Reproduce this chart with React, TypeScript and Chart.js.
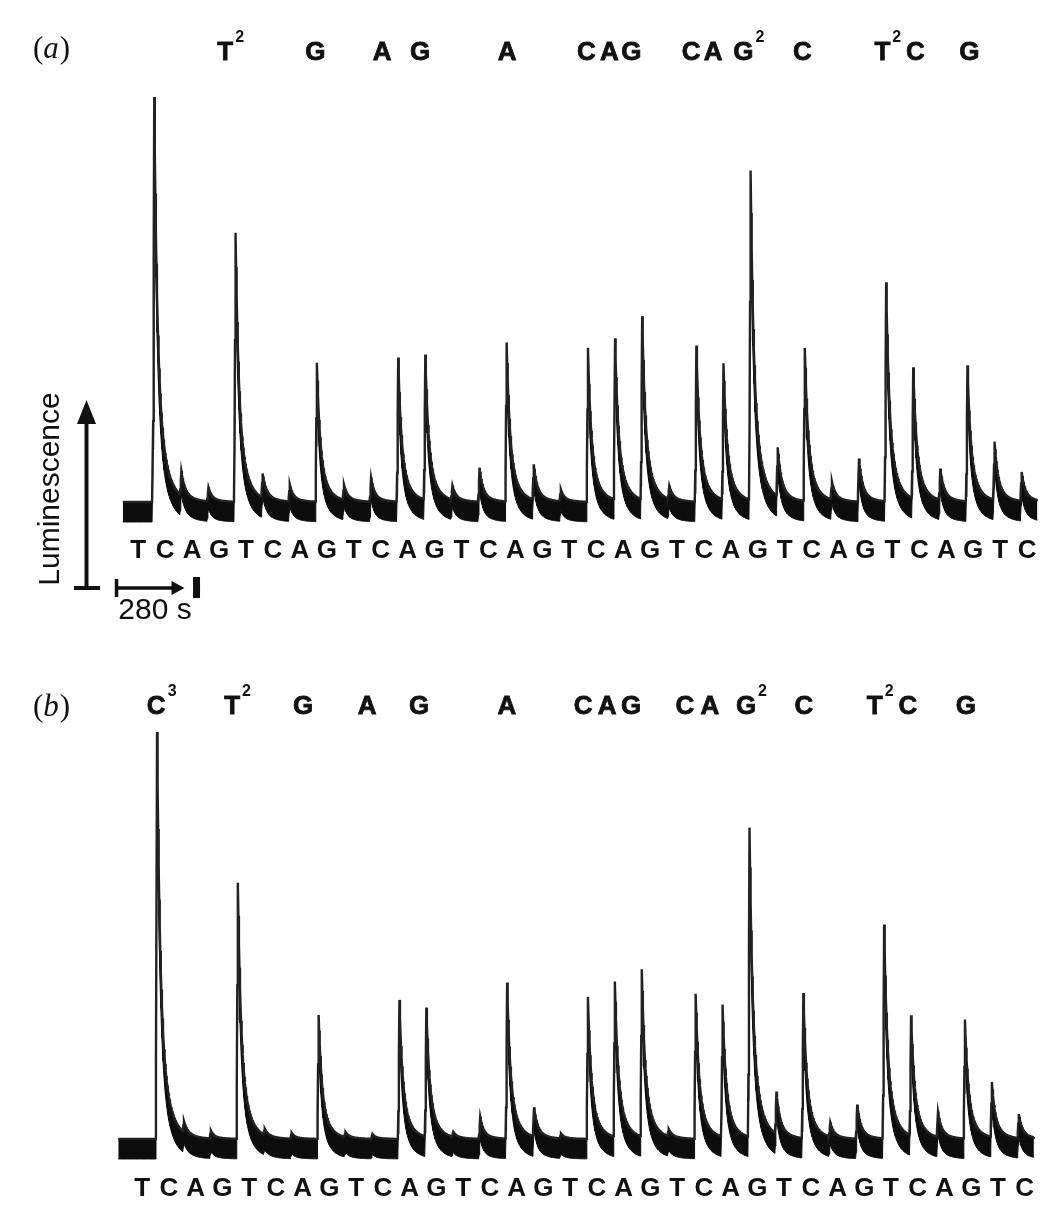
import React, { useEffect, useRef } from 'react';
import { Chart, registerables } from 'chart.js';

Chart.register(...registerables);

// ---------------- data ----------------
// Nucleotide dispensation order (34 dispensations), shown under each trace
const DISPENSATIONS = ['T','C','A','G','T','C','A','G','T','C','A','G','T','C','A','G','T','C','A','G','T','C','A','G','T','C','A','G','T','C','A','G','T','C'];

// Peak heights (luminescence, arbitrary units) for each dispensation
const PEAKS_A = [0, 405, 24, 14, 269, 24, 17, 139, 15, 24, 144, 145, 14, 34, 159, 35, 12, 154, 161, 183, 13, 156, 136, 329, 49, 153, 18, 43, 219, 131, 31, 136, 58, 29];
const PEAKS_B = [0, 407, 11, 8, 256, 6, 6, 124, 5, 5, 139, 129, 5, 22, 156, 29, 5, 142, 155, 167, 7, 145, 132, 309, 42, 145, 14, 34, 214, 120, 25, 119, 55, 24];

// Called-base annotations above the traces
const TOP_A_TEXT = ['T', 'G', 'A', 'G', 'A', 'C', 'A', 'G', 'C', 'A', 'G', 'C', 'T', 'C', 'G'];
const TOP_A_SUP = ['2', '', '', '', '', '', '', '', '', '', '2', '', '2', '', ''];
const TOP_A_AT = [3.62, 6.94, 9.41, 10.81, 14.02, 16.94, 17.79, 18.6, 20.81, 21.62, 22.73, 24.91, 27.86, 29.08, 31.07];

const TOP_B_TEXT = ['C', 'T', 'G', 'A', 'G', 'A', 'C', 'A', 'G', 'C', 'A', 'G', 'C', 'T', 'C', 'G'];
const TOP_B_SUP = ['3', '2', '', '', '', '', '', '', '', '', '', '2', '', '2', '', ''];
const TOP_B_AT = [0.97, 3.79, 6.42, 8.8, 10.73, 13.99, 16.82, 17.71, 18.6, 20.6, 21.53, 22.87, 25.02, 27.65, 28.88, 31.03];

// time scale bar
const SCALE_BAR_LABEL = '280 s';
const SCALE_BAR_FROM = -0.4;
const SCALE_BAR_TO = 2.56;

// ---------------- rendering helpers ----------------
const W = 1064;
const BAND = 20; // thickness of the noisy baseline band
const STEP = 0.02;
const RISE = 0.05;

function buildTrace(peaks: number[], start: number, end: number) {
  const upper: { x: number; y: number }[] = [];
  const lower: { x: number; y: number }[] = [];
  const k0 = Math.round(start / STEP);
  const k1 = Math.round(end / STEP);
  for (let k = k0; k <= k1; k++) {
    const t = k * STEP;
    let s = 0;
    for (let i = 0; i < peaks.length; i++) {
      const h = peaks[i];
      const d = t - i;
      if (d < -RISE - 1e-9) continue;
      if (d < -1e-9) s += h * (1 + d / RISE);
      else s += h * (0.65 * Math.exp(-d / 0.11) + 0.35 * Math.exp(-d / 0.33));
    }
    upper.push({ x: t, y: s });
    lower.push({ x: t, y: s * 0.9 - BAND });
  }
  return { upper, lower };
}

type PanelCfg = {
  tag: string;
  peaks: number[];
  topText: string[];
  topSup: string[];
  topAt: number[];
  height: number;
  xMin: number;
  xMax: number;
  areaLeft: number;
  areaRight: number;
  yMin: number;
  yMax: number;
  areaTop: number;
  areaBottom: number;
  traceStart: number;
  traceEnd: number;
  tagY: number;
  topY: number;
  bottomY: number;
  letterFirst: number;
  letterLast: number;
  axisKey: boolean;
};

const PANEL_A: PanelCfg = {
  tag: 'a', peaks: PEAKS_A, topText: TOP_A_TEXT, topSup: TOP_A_SUP, topAt: TOP_A_AT,
  height: 640, xMin: -0.3, xMax: 33.75, areaLeft: 119, areaRight: 1042,
  yMin: -58, yMax: 422, areaTop: 80, areaBottom: 560,
  traceStart: -0.16, traceEnd: 33.58,
  tagY: 50, topY: 53, bottomY: 551, letterFirst: 0.41, letterLast: 33.2, axisKey: true,
};

const PANEL_B: PanelCfg = {
  tag: 'b', peaks: PEAKS_B, topText: TOP_B_TEXT, topSup: TOP_B_SUP, topAt: TOP_B_AT,
  height: 565, xMin: -0.45, xMax: 33.75, areaLeft: 118, areaRight: 1039,
  yMin: -41, yMax: 439, areaTop: 60, areaBottom: 540,
  traceStart: -0.44, traceEnd: 33.56,
  tagY: 68, topY: 67, bottomY: 549, letterFirst: 0.45, letterLast: 33.22, axisKey: false,
};

function makeAnnotations(cfg: PanelCfg) {
  return {
    id: 'pyroAnnotations_' + cfg.tag,
    afterDraw(chart: any) {
      const ctx: CanvasRenderingContext2D = chart.ctx;
      const xs = chart.scales.x;
      ctx.save();
      ctx.fillStyle = '#111';
      ctx.strokeStyle = '#111';

      // panel tag "(a)" / "(b)"
      ctx.textBaseline = 'middle';
      ctx.textAlign = 'left';
      let tx = 33;
      ctx.font = '31px "Liberation Serif"';
      ctx.fillText('(', tx, cfg.tagY);
      tx += ctx.measureText('(').width;
      ctx.font = 'italic 31px "Liberation Serif"';
      ctx.fillText(cfg.tag, tx, cfg.tagY);
      tx += ctx.measureText(cfg.tag).width + 1;
      ctx.font = '31px "Liberation Serif"';
      ctx.fillText(')', tx, cfg.tagY);

      // called bases on top
      ctx.textAlign = 'center';
      cfg.topText.forEach((t, i) => {
        const x = xs.getPixelForValue(cfg.topAt[i]);
        ctx.font = 'bold 26px "Liberation Sans"';
        ctx.fillText(t, x, cfg.topY);
        ctx.lineWidth = 0.8;
        ctx.strokeText(t, x, cfg.topY);
        const w = ctx.measureText(t).width;
        const sup = cfg.topSup[i];
        if (sup) {
          ctx.font = 'bold 16px "Liberation Sans"';
          const sw = ctx.measureText(sup).width;
          ctx.fillText(sup, x + w / 2 + 2 + sw / 2, cfg.topY - 15);
        }
      });

      // dispensation order under the trace
      ctx.font = 'bold 26px "Liberation Sans"';
      const n = DISPENSATIONS.length;
      DISPENSATIONS.forEach((d, i) => {
        const v = cfg.letterFirst + (cfg.letterLast - cfg.letterFirst) * (i / (n - 1));
        ctx.fillText(d, xs.getPixelForValue(v), cfg.bottomY);
      });

      if (cfg.axisKey) {
        // Luminescence arrow
        ctx.save();
        ctx.translate(59, 489);
        ctx.rotate(-Math.PI / 2);
        ctx.textAlign = 'center';
        ctx.textBaseline = 'alphabetic';
        ctx.font = '30px "Liberation Sans"';
        ctx.fillText('Luminescence', 0, 0);
        ctx.restore();

        ctx.fillRect(84.5, 418, 4, 589 - 418);
        ctx.beginPath();
        ctx.moveTo(86.5, 400);
        ctx.lineTo(77, 424);
        ctx.lineTo(96, 424);
        ctx.closePath();
        ctx.fill();
        ctx.fillRect(74, 586, 26, 4);

        // time scale bar
        const x0 = xs.getPixelForValue(SCALE_BAR_FROM);
        const x1 = xs.getPixelForValue(SCALE_BAR_TO);
        const yb = 588;
        ctx.fillRect(x0 - 1.5, yb - 9, 3.5, 18);
        const tip = x1 - 12;
        ctx.fillRect(x0, yb - 1.75, tip - 10 - x0, 3.5);
        ctx.beginPath();
        ctx.moveTo(tip, yb);
        ctx.lineTo(tip - 13, yb - 7);
        ctx.lineTo(tip - 13, yb + 7);
        ctx.closePath();
        ctx.fill();
        ctx.fillRect(x1 - 3.5, yb - 11, 7, 21);

        ctx.textAlign = 'left';
        ctx.textBaseline = 'middle';
        ctx.font = '30px "Liberation Sans"';
        ctx.fillText(SCALE_BAR_LABEL, x0 + 2, 611);
      }
      ctx.restore();
    },
  };
}

function Panel({ cfg, top }: { cfg: PanelCfg; top: number }) {
  const ref = useRef<HTMLCanvasElement | null>(null);
  useEffect(() => {
    if (!ref.current) return;
    const { upper, lower } = buildTrace(cfg.peaks, cfg.traceStart, cfg.traceEnd);
    const chart = new Chart(ref.current, {
      type: 'line',
      data: {
        datasets: [
          {
            data: upper,
            borderColor: '#222222',
            borderWidth: 2.4,
            pointRadius: 0,
            fill: false,
            tension: 0,
          },
          {
            data: lower,
            borderColor: '#0d0d0d',
            borderWidth: 1,
            pointRadius: 0,
            fill: '-1',
            backgroundColor: '#0d0d0d',
            tension: 0,
          },
        ],
      } as any,
      options: {
        animation: false,
        responsive: false,
        maintainAspectRatio: false,
        events: [],
        layout: {
          padding: {
            left: cfg.areaLeft,
            right: W - cfg.areaRight,
            top: cfg.areaTop,
            bottom: cfg.height - cfg.areaBottom,
          },
        },
        scales: {
          x: { type: 'linear', min: cfg.xMin, max: cfg.xMax, display: false },
          y: { type: 'linear', min: cfg.yMin, max: cfg.yMax, display: false },
        },
        plugins: {
          legend: { display: false },
          tooltip: { enabled: false },
        },
      } as any,
      plugins: [makeAnnotations(cfg)],
    });
    return () => chart.destroy();
  }, [cfg]);
  return (
    <canvas
      ref={ref}
      width={W}
      height={cfg.height}
      style={{ position: 'absolute', left: 0, top, width: W, height: cfg.height }}
    />
  );
}

export default function App() {
  return (
    <div
      style={{
        position: 'absolute',
        left: 0,
        top: 0,
        width: W,
        height: 1205,
        background: '#ffffff',
        overflow: 'hidden',
      }}
    >
      <Panel cfg={PANEL_A} top={0} />
      <Panel cfg={PANEL_B} top={640} />
    </div>
  );
}
